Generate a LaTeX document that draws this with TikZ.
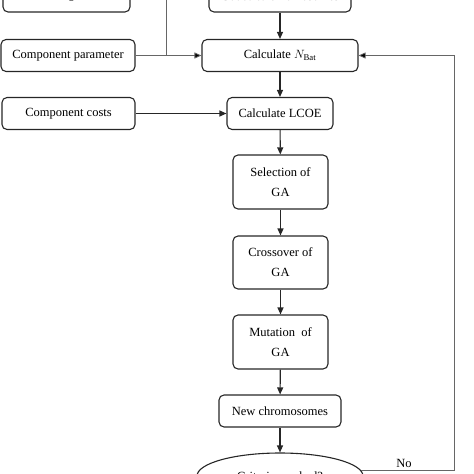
\documentclass[tikz,border=0pt]{standalone}
\usepackage{fontspec}
\setmainfont{Liberation Serif}
\usetikzlibrary{shapes.geometric,arrows.meta}
\begin{document}
\begin{tikzpicture}[x=1pt,y=-1pt,
  box/.style={draw=black!85, rounded corners=5pt, line width=1.1pt, font=\fontsize{12.5}{20}\selectfont, align=center, inner sep=0pt},
  arr/.style={-{Triangle[length=7pt,width=6pt]}, line width=1.1pt, draw=black!85},
  gline/.style={line width=0.8pt, draw=black!60},
  garr/.style={gline, -{Triangle[length=7pt,width=6pt,fill=black]}}]
\useasboundingbox (0,0) rectangle (474,474);
\clip (0,0) rectangle (474,474);
\node[box, minimum width=127pt, minimum height=32pt] (met) at (66.5,-4) {Meteorological data};
\node[box, minimum width=142pt, minimum height=32pt] (coded) at (280,-4) {Coded to chromosomes};
\node[box, minimum width=134pt, minimum height=32pt] (comp) at (68,55.5) {Component parameter};
\node[box, minimum width=156pt, minimum height=32pt] (nbat) at (280,55.5) {Calculate $N_{\mathrm{Bat}}$};
\node[box, minimum width=133pt, minimum height=32pt] (costs) at (68.5,113.5) {Component costs};
\node[box, minimum width=106pt, minimum height=32pt] (lcoe) at (280,113.5) {Calculate LCOE};
\node[box, minimum width=95pt, minimum height=54pt] (sel) at (280.5,182) {Selection of\\GA};
\node[box, minimum width=95pt, minimum height=53pt] (cross) at (280.5,262.5) {Crossover of\\GA};
\node[box, minimum width=95pt, minimum height=54pt] (mut) at (280.5,342) {Mutation~~of\\GA};
\node[box, minimum width=122pt, minimum height=32pt] (newc) at (280,411) {New chromosomes};
\node[draw=black!85, ellipse, line width=1.1pt, minimum width=166pt, minimum height=46pt, inner sep=0pt, font=\fontsize{12.5}{20}\selectfont] (crit) at (280,476) {Criteria reached?};
\node[font=\fontsize{12.5}{14}\selectfont] (no) at (404,463) {No};
\coordinate (jt) at (166,-20);
\coordinate (j) at (166,55.5);
\coordinate (fb) at (454,471);
\draw[gline] (jt) -- (j);
\draw[garr] (comp.east) -- (nbat.west);
\draw[arr] (coded) -- (nbat);
\draw[arr] (nbat) -- (lcoe);
\draw[arr] (costs) -- (lcoe);
\draw[arr] (lcoe) -- (sel);
\draw[arr] (sel) -- (cross);
\draw[arr] (cross) -- (mut);
\draw[arr] (mut) -- (newc);
\draw[arr] (newc) -- (crit);
\draw[garr] (crit.4) -- (crit.4 -| fb) -- (fb |- nbat) -- (nbat.east);
\end{tikzpicture}
\end{document}
